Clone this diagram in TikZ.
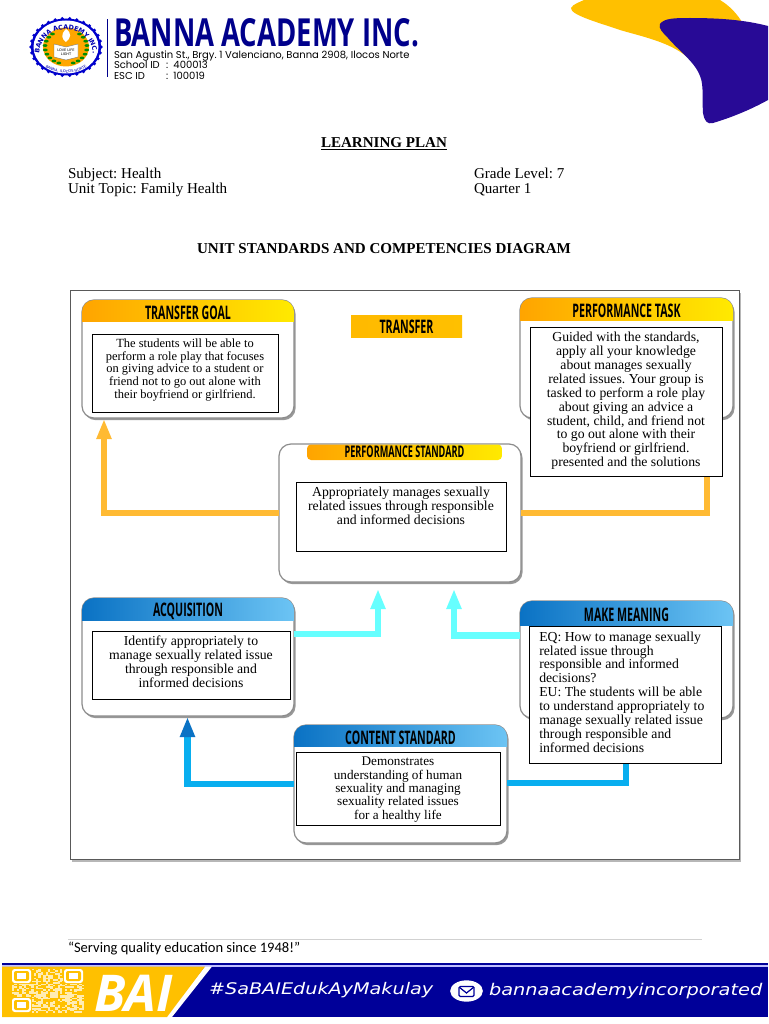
\documentclass[tikz,border=0pt]{standalone}
\usepackage{fontspec}
\usetikzlibrary{arrows.meta,shadows,decorations.text,shapes.geometric}
\setmainfont{Liberation Serif}
\newfontfamily\headfont[FakeStretch=0.57]{Open Sans}
\newfontfamily\brandfont[FakeStretch=0.71]{Open Sans}
\newfontfamily\bandfont{Open Sans}
\newfontfamily\addrfont{Poppins}
\newfontfamily\slugfont{DejaVu Sans}
\newfontfamily\slugwide[FakeStretch=1.2]{DejaVu Sans}
\newfontfamily\mottofont{Carlito}
\definecolor{navyink}{HTML}{00008B}
\definecolor{bandnavy}{HTML}{000099}
\definecolor{bandgold}{HTML}{FFC000}
\definecolor{blobblue}{HTML}{280A96}
\definecolor{arroworange}{HTML}{FFBA33}
\definecolor{arrowcyan}{HTML}{66FFFF}
\definecolor{arrowblue}{HTML}{08AEEF}
\definecolor{headlight}{HTML}{6CC4F4}
\definecolor{headmid}{HTML}{0A9BE6}
\definecolor{headdark}{HTML}{0A72C4}
\definecolor{headamber}{HTML}{FFA400}
\definecolor{headgold}{HTML}{FFC000}
\definecolor{headlemon}{HTML}{FFEA00}
\frenchspacing
\tikzset{
  pagetext/.style={inner sep=0pt, outer sep=0pt, anchor=base west, font=\fontsize{11.3}{12}\selectfont},
  headline/.style={inner sep=0pt, outer sep=0pt, anchor=base, font=\fontsize{11.3}{12}\selectfont\bfseries},
  idtext/.style={inner sep=0pt, outer sep=0pt, anchor=base west, font=\fontsize{7.5}{8}\addrfont},
  cardbox/.style={draw=black!45, line width=0.9pt, fill=white, rounded corners=9pt, outer sep=0pt,
    drop shadow={shadow xshift=1.2pt, shadow yshift=-1.6pt, opacity=.5, fill=black!80}},
  planbox/.style={draw=black, line width=0.6pt, fill=white, inner sep=0pt, outer sep=0pt},
  plantext/.style={inner sep=0pt, align=center, font=\fontsize{10.3}{10.4}\selectfont},
  headtext/.style={inner sep=0pt, text=black, font=\fontsize{14}{14}\headfont\bfseries},
  orangehead/.style={left color=headamber, middle color=headgold, right color=headlemon},
  bluehead/.style={left color=headdark, middle color=headmid, right color=headlight},
  linkline/.style={line width=5pt, line cap=butt, line join=miter},
  linkhead/.style={-{Triangle[length=15pt,width=10.5pt,#1]}},
}
\begin{document}
\begin{tikzpicture}[x=0.75pt, y=-0.75pt]
  \useasboundingbox (0,0) rectangle (768,1024);

  % Letterhead shapes
  \fill[bandgold] (571,8) .. controls (573,4) and (580,2) .. (584,0) -- (720,0)
    .. controls (730,6) and (737,14) .. (742,22) -- (700,60) -- (687,57)
    .. controls (670,42) and (640,36) .. (620,30) .. controls (600,23) and (570,15) .. (571,8) -- cycle;
  \fill[blobblue] (660,24) .. controls (664,18) and (676,18) .. (690,18)
    .. controls (720,18) and (745,20) .. (768,26) -- (768,100)
    .. controls (750,110) and (730,118) .. (713,123) .. controls (707,125) and (704,120) .. (703,113)
    .. controls (702,100) and (704,85) .. (700,76) .. controls (695,62) and (678,50) .. (668,38)
    .. controls (663,33) and (658,28) .. (660,24) -- cycle;

  % Seal
  \foreach \ang in {0,12,...,348}
    \fill[blue!80!black] ({66+35*cos(\ang)},{47+28.5*sin(\ang)}) circle (1.8);
  \fill[blue!80!black] (66,47) ellipse (35 and 28.5);
  \fill[white] (66,47) ellipse (32.5 and 26.5);
  \fill[orange!70!yellow] (66,47) ellipse (23 and 19.5);
  \foreach \ang in {110,125,...,230} {
    \fill[green!55!black] ({66+21*cos(\ang)},{47+17*sin(\ang)}) ellipse (2.4 and 1.4);
    \fill[green!55!black] ({66-21*cos(\ang)},{47+17*sin(\ang)}) ellipse (2.4 and 1.4);
  }
  \fill[white] (66,29) .. controls (60,35) and (62,39) .. (66,42) .. controls (71,38) and (72,33) .. (66,29) -- cycle;
  \fill[white, draw=black!60, line width=0.2pt] (54,44) -- (66,47) -- (78,44) -- (78,57) -- (66,60) -- (54,57) -- cycle;
  \node[inner sep=0pt, align=center, font=\fontsize{2.6}{3}\slugfont] (sealbook) at (66,52) {LOVE LIFE\\LIGHT};
  \path[decorate, decoration={text along path, text align=center,
      text={|\fontsize{4.8}{5}\slugfont\bfseries\color{blue!70!black}|BANNA ACADEMY INC.}}]
    (39,58) .. controls (38,20) and (94,20) .. (93,58);
  \path[decorate, decoration={text along path, text align=center,
      text={|\fontsize{2.8}{3}\slugfont\color{blue!70!black}|BANNA, ILOCOS NORTE}}]
    (42,64) .. controls (52,76) and (80,76) .. (90,64);

  % Letterhead text
  \fill[navyink] (106.5,19) rectangle (108,77);
  \node[inner sep=0pt, outer sep=0pt, anchor=base west, text=navyink, font=\fontsize{29}{29}\brandfont\bfseries] (schoolname) at (114,47) {BANNA ACADEMY INC.};
  \node[idtext] (schooladdr) at (114,59) {San Agustin St., Brgy. 1 Valenciano, Banna 2908, Ilocos Norte};
  \node[idtext] (schoolid) at (114,68.5) {School ID};
  \node[idtext] (schoolnum) at (166,68.5) {:\ \ 400013};
  \node[idtext] (escid) at (114,79.5) {ESC ID};
  \node[idtext] (escnum) at (166,79.5) {:\ \ 100019};

  % Page heading
  \node[headline] (plantitle) at (384,147) {\underline{LEARNING PLAN}};
  \node[pagetext] (subject) at (68,178) {Subject: Health};
  \node[pagetext] (topic) at (68,193) {Unit Topic: Family Health};
  \node[pagetext] (grade) at (474,178) {Grade Level: 7};
  \node[pagetext] (quarter) at (474,193) {Quarter 1};
  \node[headline] (unittitle) at (384,253) {UNIT STANDARDS AND COMPETENCIES DIAGRAM};

  % Outer frame
  \node[draw=black!65, line width=0.7pt, fill=white, outer sep=0pt, minimum width=501.75pt, minimum height=426.75pt,
    drop shadow={shadow xshift=1.5pt, shadow yshift=-2.2pt, opacity=.4, fill=black!70}] (frame) at (404.5,574.5) {};

  % Cards
  \foreach \card/\cx/\cy/\cw/\ch/\hh/\hcol/\ttl in {
      goal/188/359/212/118/21/orangehead/TRANSFER GOAL,
      task/626.5/358/213/120/22/orangehead/PERFORMANCE TASK,
      acq/188/657/212/118/22/bluehead/ACQUISITION,
      meaning/626.5/659.5/213/117/24/bluehead/MAKE MEANING,
      content/400.5/784/213/118/21/bluehead/CONTENT STANDARD} {
    \node[cardbox, minimum width=\cw*0.75pt, minimum height=\ch*0.75pt] (\card) at (\cx,\cy) {};
    \begin{scope}
      \clip[rounded corners=9pt] (\card.north west) rectangle (\card.south east);
      \shade[\hcol] (\card.north west) rectangle ++(\cw,\hh);
    \end{scope}
    \node[headtext] (\card title) at ([yshift=-\hh*0.375pt-1.4pt]\card.north) {\ttl};
  }
  \node[cardbox, minimum width=181.5pt, minimum height=103.5pt] (standard) at (400,513) {};
  \shade[orangehead, rounded corners=3pt] (307,444.5) -- (307,460) -- (502,460) -- (502,444.5) -- cycle;
  \node[headtext, font=\fontsize{12}{12}\headfont\bfseries] (standardtitle) at (404.5,452) {PERFORMANCE STANDARD};
  \shade[left color=bandgold!90!orange, right color=bandgold] (351,315) rectangle (462,337);
  \node[headtext] (transfertag) at (406.5,327) {TRANSFER};

  % Connectors
  \coordinate (goalfoot) at (104,419);
  \coordinate (leftbendA) at (104,513);
  \coordinate (taskfoot) at (707,470);
  \coordinate (rightbendA) at (707,513);
  \coordinate (midleft) at (378,589);
  \coordinate (leftbendB) at (378,634);
  \coordinate (midright) at (454,589);
  \coordinate (rightbendB) at (454,635.5);
  \coordinate (acqfoot) at (187.5,717);
  \coordinate (leftbendC) at (187.5,784);
  \coordinate (meanfoot) at (626,760);
  \coordinate (rightbendC) at (626,783);
  \draw[linkline, arroworange, linkhead={color=arroworange}] (standard.west) -- (leftbendA) -- (goalfoot);
  \draw[linkline, arroworange] (standard.east) -- (rightbendA) -- (taskfoot);
  \draw[linkline, arrowcyan, linkhead={color=arrowcyan}] (leftbendB -| acq.east) -- (leftbendB) -- (midleft);
  \draw[linkline, arrowcyan, linkhead={color=arrowcyan}] (rightbendB -| meaning.west) -- (rightbendB) -- (midright);
  \draw[linkline, arrowblue, linkhead={color=headdark}] (content.west) -- (leftbendC) -- (acqfoot);
  \draw[linkline, arrowblue] (rightbendC -| content.east) -- (rightbendC) -- (meanfoot);

  % Text boxes
  \node[planbox, minimum width=139.5pt, minimum height=58.5pt] (goalbox) at (185,373) {};
  \node[plantext, font=\fontsize{9.35}{9.6}\selectfont] (goaltext) at (185,370) {The students will be able to\\perform a role play that focuses\\on giving advice to a student or\\friend not to go out alone with\\their boyfriend or girlfriend.};
  \node[planbox, minimum width=144pt, minimum height=111.75pt] (taskbox) at (626,401.5) {};
  \node[plantext] (tasktext) at (626,401) {Guided with the standards,\\apply all your knowledge\\about manages sexually\\related issues. Your group is\\tasked to perform a role play\\about giving an advice a\\student, child, and friend not\\to go out alone with their\\boyfriend or girlfriend.\\presented and the solutions};
  \node[planbox, minimum width=157.5pt, minimum height=51.75pt] (standardbox) at (401,516.5) {};
  \node[plantext] (standardtext) at (401,506) {Appropriately manages sexually\\related issues through responsible\\and informed decisions};
  \node[planbox, minimum width=148.5pt, minimum height=51pt] (acqbox) at (191,665) {};
  \node[plantext] (acqtext) at (191,662) {Identify appropriately to\\manage sexually related issue\\through responsible and\\informed decisions};
  \node[planbox, minimum width=144pt, minimum height=102.75pt] (meanbox) at (625,694.5) {};
  \node[plantext, align=left, anchor=west] (meantext) at (539,692) {EQ: How to manage sexually\\related issue through\\responsible and informed\\decisions?\\EU: The students will be able\\to understand appropriately to\\manage sexually related issue\\through responsible and\\informed decisions};
  \node[planbox, minimum width=153pt, minimum height=54.75pt] (contentbox) at (398,788.5) {};
  \node[plantext, font=\fontsize{9.9}{10}\selectfont] (contenttext) at (398,789.5) {Demonstrates\\understanding of human\\sexuality and managing\\sexuality related issues\\for a healthy life};

  % Footer
  \coordinate (ruleleft) at (68,939);
  \coordinate (ruleright) at (702,939);
  \draw[black!18, line width=0.6pt] (ruleleft) -- (ruleright);
  \node[inner sep=0pt, outer sep=0pt, anchor=base west, font=\fontsize{10.9}{11}\mottofont] (motto) at (68,952) {“Serving quality education since 1948!”};
  \fill[bandnavy] (2,962.5) rectangle (768,965);
  \fill[blue!25!white] (2,965) rectangle (768,966.5);
  \fill[bandnavy] (2,966.5) rectangle (768,1017);
  \fill[white] (212,966.5) -- (172,1017) -- (165,1017) -- (205,966.5) -- cycle;
  \fill[bandgold] (2,966.5) -- (205,966.5) -- (167,1017) -- (2,1017) -- cycle;
  % qr pattern
  \pgfmathsetseed{1948}
  \foreach \i in {0,...,29}
    \foreach \j in {0,...,29} {
      \pgfmathtruncatemacro\qrbit{rnd>0.5 ? 1 : 0}
      \ifnum\qrbit=1
        \fill[white, opacity=.7] ({12+\i*2.4},{969+\j*1.45}) rectangle ++(2.4,1.45);
      \fi
    }
  \foreach \qx/\qy in {12/969, 64/969, 12/998} {
    \fill[bandgold] (\qx-1,\qy-1) rectangle ++(21,16);
    \fill[white, rounded corners=2pt] (\qx,\qy) rectangle ++(19,14);
    \fill[bandgold, rounded corners=1.5pt] (\qx+2,\qy+2) rectangle ++(15,10);
    \fill[white] (\qx+5,\qy+4) rectangle ++(9,6);
  }
  \node[inner sep=0pt, outer sep=0pt, text=white, font=\fontsize{38}{38}\bandfont\bfseries\itshape] (bailogo) at (133.5,993) {BAI};
  \node[inner sep=0pt, outer sep=0pt, anchor=west, text=white, font=\fontsize{12}{12}\slugwide\itshape] (hashtag) at (209,990.5) {\#SaBAIEdukAyMakulay};
  \node[fill=white, ellipse, inner sep=0pt, minimum width=24.5pt, minimum height=16pt] (mailbadge) at (466.5,991) {};
  \draw[bandnavy, line width=0.9pt, rounded corners=1pt] (459,986.5) rectangle (474,996.5);
  \draw[bandnavy, line width=0.9pt] (459,987) -- (466.5,993) -- (474,987);
  \node[inner sep=0pt, outer sep=0pt, anchor=west, text=white, font=\fontsize{12.1}{13}\slugwide\itshape] (handle) at (489,991) {bannaacademyincorporated};
\end{tikzpicture}
\end{document}
